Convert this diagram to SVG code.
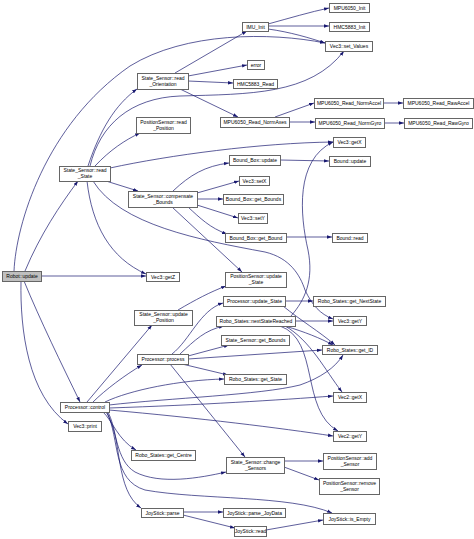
<svg xmlns="http://www.w3.org/2000/svg" width="474" height="539" viewBox="0 0 474 539">
<style>
.n rect{fill:#fff;stroke:#666;stroke-width:1}
.n.root rect{fill:#bfbfbf}
.n text{font-family:"Liberation Sans",Arial,sans-serif;font-size:5px;fill:#000;text-anchor:middle}
.e path{fill:none;stroke:#191970;stroke-width:0.7;marker-end:url(#a)}
</style>
<defs>
<marker id="a" markerUnits="userSpaceOnUse" markerWidth="5" markerHeight="4" refX="5" refY="2" orient="auto">
<path d="M0,0.3 L5,2 L0,3.7 z" fill="#191970"/>
</marker>
</defs>
<rect width="474" height="539" fill="#fff"/>
<g id="edges" class="e">
<path d="M25,271 C40,235 60,205 78,181"/>
<path d="M41,276 L146,276"/>
<path d="M24,281 C40,320 62,365 80,402"/>
<path d="M21,281 C20,330 28,395 68,424"/>
<path d="M14,271 C16,225 45,125 130,66 C185,32 270,32 325,43"/>
<path d="M88,166 C100,130 115,105 137,89"/>
<path d="M95,166 C110,150 125,140 140,133"/>
<path d="M90,166 C100,125 130,98 180,96 C250,94 310,95 344,51"/>
<path d="M110,168 C170,155 260,143 333,142"/>
<path d="M106,181 L138,191"/>
<path d="M87,181 C92,225 110,258 146,274"/>
<path d="M93,181 C120,225 200,240 265,252 C290,258 300,275 305,290 C312,305 320,314 333,319"/>
<path d="M175,73 L247,31"/>
<path d="M188,76 L247,65"/>
<path d="M188,81 L233,83"/>
<path d="M180,89 L238,117"/>
<path d="M268,24 C290,18 310,12 329,8"/>
<path d="M268,26 L329,26"/>
<path d="M268,29 C290,32 310,38 325,43"/>
<path d="M275,117 L314,103"/>
<path d="M289,122 L315,122"/>
<path d="M383,103 L403,103"/>
<path d="M384,123 L404,123"/>
<path d="M173,191 C190,175 205,166 229,163"/>
<path d="M197,193 L239,181"/>
<path d="M197,199 L223,199"/>
<path d="M197,205 L238,218"/>
<path d="M188,207 C200,218 210,228 227,234"/>
<path d="M172,207 L242,272"/>
<path d="M280,160 L329,161"/>
<path d="M286,237 L332,237"/>
<path d="M178,310 C195,300 210,292 226,286"/>
<path d="M87,402 L152,325"/>
<path d="M93,402 C105,390 125,375 142,365"/>
<path d="M105,402 C130,390 180,380 224,379"/>
<path d="M109,405 C170,398 260,395 300,385 C320,378 335,368 343,355"/>
<path d="M109,408 C200,405 280,400 333,396"/>
<path d="M109,410 C200,418 280,428 333,436"/>
<path d="M103,412 C112,420 118,440 136,450"/>
<path d="M106,412 C118,430 115,460 135,472 C160,485 200,478 226,472"/>
<path d="M107,412 C120,440 112,480 145,490 C200,500 290,495 332,513"/>
<path d="M108,412 C122,440 115,490 141,508"/>
<path d="M172,354 C190,340 200,310 223,303"/>
<path d="M180,354 C195,340 205,330 224,326"/>
<path d="M188,356 L229,345"/>
<path d="M188,359 L322,350"/>
<path d="M182,364 L228,375"/>
<path d="M170,364 L245,457"/>
<path d="M285,301 L313,301"/>
<path d="M283,306 C300,320 320,332 335,345"/>
<path d="M295,321 L333,321"/>
<path d="M285,326 C305,332 320,338 333,345"/>
<path d="M285,326 C310,340 325,370 342,392"/>
<path d="M280,326 C320,340 300,410 338,431"/>
<path d="M291,316 C305,300 314,280 308,250 C300,215 295,160 333,142"/>
<path d="M284,461 L323,461"/>
<path d="M284,467 L319,480"/>
<path d="M183,512 L223,512"/>
<path d="M183,515 L235,528"/>
<path d="M266,530 L323,520"/>
</g>
<g id="robot_update" class="n root"><rect x="2.5" y="271.5" width="39" height="10"/><text x="22" y="278.3">Robot::update</text></g>
<g id="read_state" class="n"><rect x="59.5" y="166.5" width="51" height="15"/><text x="85" y="172.3">State_Sensor::read</text><text x="85" y="178.3">_State</text></g>
<g id="read_orientation" class="n"><rect x="137.5" y="73.5" width="51" height="16"/><text x="163" y="79.8">State_Sensor::read</text><text x="163" y="85.8">_Orientation</text></g>
<g id="read_position" class="n"><rect x="136.5" y="117.5" width="54" height="16"/><text x="163.5" y="123.8">PositionSensor::read</text><text x="163.5" y="129.8">_Position</text></g>
<g id="compensate_bounds" class="n"><rect x="128.5" y="191.5" width="69" height="16"/><text x="163" y="197.8">State_Sensor::compensate</text><text x="163" y="203.8">_Bounds</text></g>
<g id="vec3_getz" class="n"><rect x="146.5" y="272.5" width="33" height="9"/><text x="163" y="278.8">Vec3::getZ</text></g>
<g id="update_position" class="n"><rect x="134.5" y="310.5" width="58" height="15"/><text x="163.5" y="316.3">State_Sensor::update</text><text x="163.5" y="322.3">_Position</text></g>
<g id="process" class="n"><rect x="137.5" y="354.5" width="51" height="10"/><text x="163" y="361.3">Processor::process</text></g>
<g id="control" class="n"><rect x="60.5" y="402.5" width="49" height="10"/><text x="85" y="409.3">Processor::control</text></g>
<g id="vec3_print" class="n"><rect x="68.5" y="421.5" width="33" height="10"/><text x="85" y="428.3">Vec3::print</text></g>
<g id="get_centre" class="n"><rect x="131.5" y="450.5" width="64" height="10"/><text x="163.5" y="457.3">Robo_States::get_Centre</text></g>
<g id="js_parse" class="n"><rect x="141.5" y="508.5" width="42" height="9"/><text x="162.5" y="514.8">JoyStick::parse</text></g>
<g id="imu_init" class="n"><rect x="242.5" y="22.5" width="26" height="9"/><text x="255.5" y="28.8">IMU_Init</text></g>
<g id="error" class="n"><rect x="247.5" y="60.5" width="17" height="9"/><text x="256" y="66.8">error</text></g>
<g id="hmc5883_read" class="n"><rect x="233.5" y="79.5" width="44" height="9"/><text x="255.5" y="85.8">HMC5883_Read</text></g>
<g id="norm_axes" class="n"><rect x="220.5" y="117.5" width="69" height="10"/><text x="255" y="124.3">MPU6050_Read_NormAxes</text></g>
<g id="bb_update" class="n"><rect x="229.5" y="155.5" width="51" height="10"/><text x="255" y="162.3">Bound_Box::update</text></g>
<g id="vec3_setx" class="n"><rect x="239.5" y="176.5" width="30" height="9"/><text x="254.5" y="182.8">Vec3::setX</text></g>
<g id="bb_get_bounds" class="n"><rect x="223.5" y="194.5" width="60" height="10"/><text x="253.5" y="201.3">Bound_Box::get_Bounds</text></g>
<g id="vec3_sety" class="n"><rect x="238.5" y="213.5" width="29" height="10"/><text x="253" y="220.3">Vec3::setY</text></g>
<g id="bb_get_bound" class="n"><rect x="225.5" y="233.5" width="61" height="9"/><text x="256" y="239.8">Bound_Box::get_Bound</text></g>
<g id="ps_update_state" class="n"><rect x="225.5" y="272.5" width="61" height="15"/><text x="256" y="278.3">PositionSensor::update</text><text x="256" y="284.3">_State</text></g>
<g id="proc_update_state" class="n"><rect x="223.5" y="296.5" width="62" height="10"/><text x="254.5" y="303.3">Processor::update_State</text></g>
<g id="next_state_reached" class="n"><rect x="216.5" y="316.5" width="79" height="10"/><text x="256" y="323.3">Robo_States::nextStateReached</text></g>
<g id="ss_get_bounds" class="n"><rect x="221.5" y="335.5" width="68" height="10"/><text x="255.5" y="342.3">State_Sensor::get_Bounds</text></g>
<g id="get_state" class="n"><rect x="224.5" y="374.5" width="62" height="10"/><text x="255.5" y="381.3">Robo_States::get_State</text></g>
<g id="change_sensors" class="n"><rect x="226.5" y="457.5" width="58" height="16"/><text x="255.5" y="463.8">State_Sensor::change</text><text x="255.5" y="469.8">_Sensors</text></g>
<g id="parse_joydata" class="n"><rect x="223.5" y="508.5" width="62" height="9"/><text x="254.5" y="514.8">JoyStick::parse_JoyData</text></g>
<g id="js_read" class="n"><rect x="234.5" y="526.5" width="32" height="10"/><text x="250.5" y="533.3">JoyStick::read</text></g>
<g id="mpu6050_init" class="n"><rect x="329.5" y="3.5" width="40" height="9"/><text x="349.5" y="9.8">MPU6050_Init</text></g>
<g id="hmc5883_init" class="n"><rect x="329.5" y="22.5" width="40" height="9"/><text x="349.5" y="28.8">HMC5883_Init</text></g>
<g id="set_values" class="n"><rect x="325.5" y="41.5" width="47" height="10"/><text x="349" y="48.3">Vec3::set_Values</text></g>
<g id="norm_accel" class="n"><rect x="314.5" y="98.5" width="69" height="10"/><text x="349" y="105.3">MPU6050_Read_NormAccel</text></g>
<g id="norm_gyro" class="n"><rect x="315.5" y="118.5" width="69" height="10"/><text x="350" y="125.3">MPU6050_Read_NormGyro</text></g>
<g id="raw_accel" class="n"><rect x="403.5" y="98.5" width="70" height="10"/><text x="438.5" y="105.3">MPU6050_Read_RawAccel</text></g>
<g id="raw_gyro" class="n"><rect x="404.5" y="118.5" width="68" height="10"/><text x="438.5" y="125.3">MPU6050_Read_RawGyro</text></g>
<g id="vec3_getx" class="n"><rect x="333.5" y="137.5" width="32" height="10"/><text x="349.5" y="144.3">Vec3::getX</text></g>
<g id="bound_update" class="n"><rect x="329.5" y="156.5" width="41" height="10"/><text x="350" y="163.3">Bound::update</text></g>
<g id="bound_read" class="n"><rect x="332.5" y="233.5" width="35" height="9"/><text x="350" y="239.8">Bound::read</text></g>
<g id="get_next_state" class="n"><rect x="313.5" y="296.5" width="72" height="10"/><text x="349.5" y="303.3">Robo_States::get_NextState</text></g>
<g id="vec3_gety" class="n"><rect x="333.5" y="316.5" width="33" height="9"/><text x="350" y="322.8">Vec3::getY</text></g>
<g id="get_id" class="n"><rect x="322.5" y="345.5" width="55" height="9"/><text x="350" y="351.8">Robo_States::get_ID</text></g>
<g id="vec2_getx" class="n"><rect x="333.5" y="392.5" width="33" height="10"/><text x="350" y="399.3">Vec2::getX</text></g>
<g id="vec2_gety" class="n"><rect x="333.5" y="431.5" width="33" height="10"/><text x="350" y="438.3">Vec2::getY</text></g>
<g id="add_sensor" class="n"><rect x="323.5" y="453.5" width="53" height="16"/><text x="350" y="459.8">PositionSensor::add</text><text x="350" y="465.8">_Sensor</text></g>
<g id="remove_sensor" class="n"><rect x="319.5" y="478.5" width="60" height="16"/><text x="349.5" y="484.8">PositionSensor::remove</text><text x="349.5" y="490.8">_Sensor</text></g>
<g id="is_empty" class="n"><rect x="323.5" y="513.5" width="52" height="11"/><text x="349.5" y="520.8">JoyStick::is_Empty</text></g>
</svg>
